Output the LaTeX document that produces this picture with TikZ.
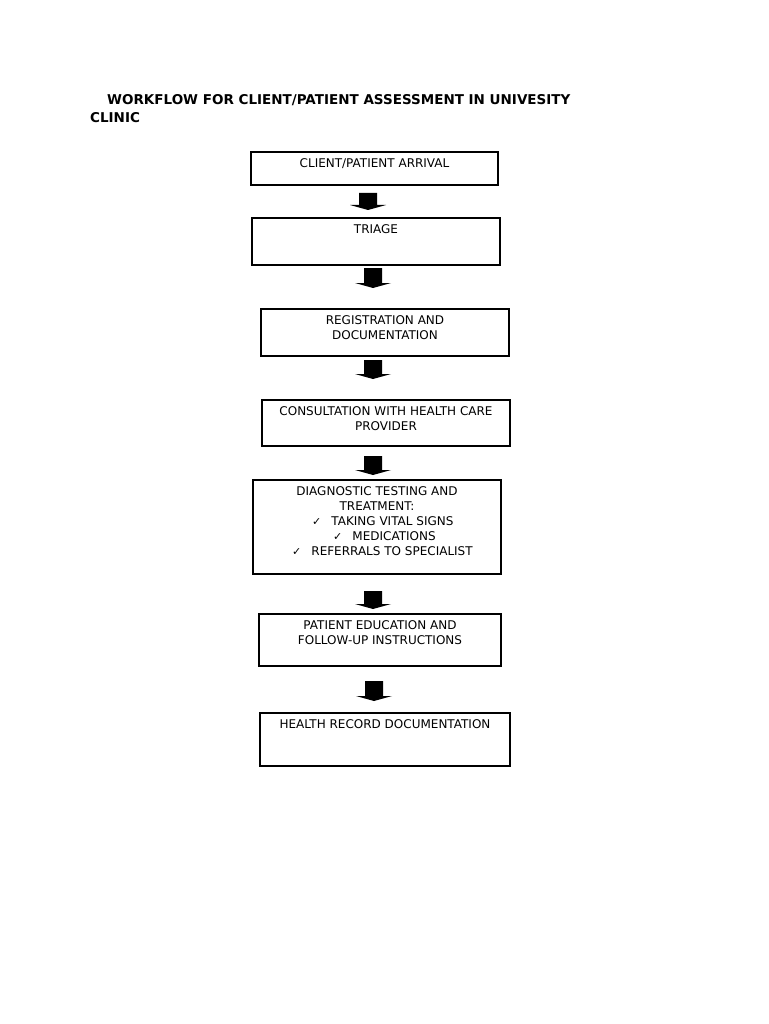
\documentclass[tikz,border=0pt]{standalone}
\usepackage{fontspec}
\setmainfont{DejaVu Sans}
\begin{document}
\begin{tikzpicture}[x=1pt,y=-1pt,
  box/.style={draw,line width=2.5pt},
  txt/.style={anchor=north,align=center,font=\fontsize{12}{15.5}\selectfont,inner sep=0pt},
  barrow/.style={fill=black}]
\useasboundingbox (0,0) rectangle (768,1024);
\node[anchor=north west,align=left,inner sep=0pt,font=\bfseries\fontsize{13.5}{18}\selectfont] (title) at (90,94)
  {\hspace*{17pt}WORKFLOW FOR CLIENT/PATIENT ASSESSMENT IN UNIVESITY\\CLINIC};
\newcommand\stepbox[6]{%
  \draw[box] (#2,#3) rectangle (#4,#5);
  \node[txt] (#1) at ({(#2+#4)/2},{#3+6}) {#6};}
\stepbox{b1}{251}{152}{498}{185}{CLIENT/PATIENT ARRIVAL}
\stepbox{b2}{252}{218}{500}{265}{TRIAGE}
\stepbox{b3}{261}{309}{509}{356}{REGISTRATION AND\\DOCUMENTATION}
\stepbox{b4}{262}{400}{510}{446}{CONSULTATION WITH HEALTH CARE\\PROVIDER}
\draw[box] (253,480) rectangle (501,574);
\node[txt] (b5) at (377,486) {DIAGNOSTIC TESTING AND\\TREATMENT:};
\node[txt,anchor=north west] (b5a) at (312,516) {\fontsize{11}{12}\selectfont ✓\hspace{10pt}\fontsize{12}{15}\selectfont TAKING VITAL SIGNS};
\node[txt,anchor=north west] (b5b) at (333,531) {\fontsize{11}{12}\selectfont ✓\hspace{10pt}\fontsize{12}{15}\selectfont MEDICATIONS};
\node[txt,anchor=north west] (b5c) at (292,546) {\fontsize{11}{12}\selectfont ✓\hspace{10pt}\fontsize{12}{15}\selectfont REFERRALS TO SPECIALIST};
\stepbox{b6}{259}{614}{501}{666}{PATIENT EDUCATION AND\\FOLLOW-UP INSTRUCTIONS}
\stepbox{b7}{260}{713}{510}{766}{HEALTH RECORD DOCUMENTATION}
\newcommand\blockarrow[3]{%
  \fill[barrow] (#1-9,#2) -- (#1+9,#2) -- (#1+9,#3-5) -- (#1+18,#3-5) -- (#1,#3) -- (#1-18,#3-5) -- (#1-9,#3-5) -- cycle;}
\blockarrow{368}{193}{210}
\blockarrow{373}{268}{288}
\blockarrow{373}{360}{379}
\blockarrow{373}{456}{475}
\blockarrow{373}{591}{609}
\blockarrow{374}{681}{701}
\end{tikzpicture}
\end{document}
